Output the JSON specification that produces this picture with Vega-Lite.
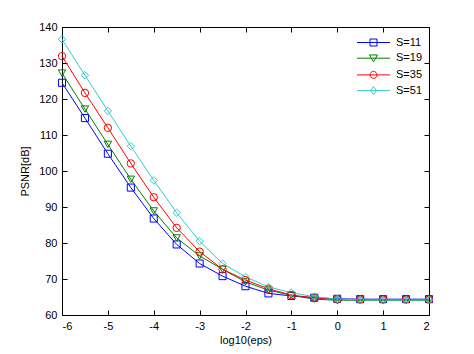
{
  "$schema": "https://vega.github.io/schema/vega-lite/v6.json",
  "width": 367,
  "height": 288,
  "autosize": "none",
  "padding": {"left": 62, "top": 27, "right": 45, "bottom": 39},
  "background": "white",
  "config": {
    "view": {"stroke": "black", "strokeWidth": 1},
    "font": "Liberation Sans",
    "axis": {
      "grid": false,
      "domain": false,
      "labelFont": "Liberation Sans",
      "labelFontSize": 11,
      "labelColor": "black",
      "titleFont": "Liberation Sans",
      "titleFontSize": 11,
      "titleFontWeight": "normal",
      "titleColor": "black",
      "tickColor": "black",
      "tickSize": -5
    },
    "legend": {
      "labelFont": "Liberation Sans",
      "labelFontSize": 11,
      "labelColor": "black"
    }
  },
  "datasets": {
    "psnr": [
      {"x": -6, "S": "S=11", "v": 124.5}, {"x": -5.5, "S": "S=11", "v": 114.7}, {"x": -5, "S": "S=11", "v": 104.8}, {"x": -4.5, "S": "S=11", "v": 95.4}, {"x": -4, "S": "S=11", "v": 86.8}, {"x": -3.5, "S": "S=11", "v": 79.6}, {"x": -3, "S": "S=11", "v": 74.3}, {"x": -2.5, "S": "S=11", "v": 70.8}, {"x": -2, "S": "S=11", "v": 68.0}, {"x": -1.5, "S": "S=11", "v": 66.0}, {"x": -1, "S": "S=11", "v": 65.3}, {"x": -0.5, "S": "S=11", "v": 64.8}, {"x": 0, "S": "S=11", "v": 64.5}, {"x": 0.5, "S": "S=11", "v": 64.4}, {"x": 1, "S": "S=11", "v": 64.4}, {"x": 1.5, "S": "S=11", "v": 64.4}, {"x": 2, "S": "S=11", "v": 64.4},
      {"x": -6, "S": "S=19", "v": 127.2}, {"x": -5.5, "S": "S=19", "v": 117.2}, {"x": -5, "S": "S=19", "v": 107.4}, {"x": -4.5, "S": "S=19", "v": 97.7}, {"x": -4, "S": "S=19", "v": 88.9}, {"x": -3.5, "S": "S=19", "v": 81.4}, {"x": -3, "S": "S=19", "v": 76.4}, {"x": -2.5, "S": "S=19", "v": 72.7}, {"x": -2, "S": "S=19", "v": 69.2}, {"x": -1.5, "S": "S=19", "v": 66.9}, {"x": -1, "S": "S=19", "v": 65.5}, {"x": -0.5, "S": "S=19", "v": 64.4}, {"x": 0, "S": "S=19", "v": 64.1}, {"x": 0.5, "S": "S=19", "v": 64.1}, {"x": 1, "S": "S=19", "v": 64.1}, {"x": 1.5, "S": "S=19", "v": 64.1}, {"x": 2, "S": "S=19", "v": 64.1},
      {"x": -6, "S": "S=35", "v": 131.9}, {"x": -5.5, "S": "S=35", "v": 121.7}, {"x": -5, "S": "S=35", "v": 112.0}, {"x": -4.5, "S": "S=35", "v": 102.1}, {"x": -4, "S": "S=35", "v": 92.7}, {"x": -3.5, "S": "S=35", "v": 84.2}, {"x": -3, "S": "S=35", "v": 77.6}, {"x": -2.5, "S": "S=35", "v": 72.7}, {"x": -2, "S": "S=35", "v": 69.7}, {"x": -1.5, "S": "S=35", "v": 67.3}, {"x": -1, "S": "S=35", "v": 65.5}, {"x": -0.5, "S": "S=35", "v": 64.8}, {"x": 0, "S": "S=35", "v": 64.3}, {"x": 0.5, "S": "S=35", "v": 64.3}, {"x": 1, "S": "S=35", "v": 64.3}, {"x": 1.5, "S": "S=35", "v": 64.3}, {"x": 2, "S": "S=35", "v": 64.3},
      {"x": -6, "S": "S=51", "v": 136.6}, {"x": -5.5, "S": "S=51", "v": 126.6}, {"x": -5, "S": "S=51", "v": 116.7}, {"x": -4.5, "S": "S=51", "v": 106.9}, {"x": -4, "S": "S=51", "v": 97.4}, {"x": -3.5, "S": "S=51", "v": 88.4}, {"x": -3, "S": "S=51", "v": 80.5}, {"x": -2.5, "S": "S=51", "v": 74.3}, {"x": -2, "S": "S=51", "v": 70.6}, {"x": -1.5, "S": "S=51", "v": 67.8}, {"x": -1, "S": "S=51", "v": 66.2}, {"x": -0.5, "S": "S=51", "v": 65.1}, {"x": 0, "S": "S=51", "v": 64.4}, {"x": 0.5, "S": "S=51", "v": 64.2}, {"x": 1, "S": "S=51", "v": 64.2}, {"x": 1.5, "S": "S=51", "v": 64.2}, {"x": 2, "S": "S=51", "v": 64.2}
    ]
  },
  "data": {"name": "psnr"},
  "layer": [
    {
      "mark": {"type": "line", "strokeWidth": 1},
      "encoding": {
        "x": {"field": "x", "type": "quantitative", "scale": {"domain": [-6, 2], "nice": false, "zero": false},
              "axis": {"orient": "bottom", "title": "log10(eps)", "values": [-6, -5, -4, -3, -2, -1, 0, 1, 2], "labelExpr": "'' + datum.value", "labelPadding": 10, "titlePadding": 3}},
        "y": {"field": "v", "type": "quantitative", "scale": {"domain": [60, 140], "nice": false, "zero": false},
              "axis": {"orient": "left", "title": "PSNR[dB]", "values": [60, 70, 80, 90, 100, 110, 120, 130, 140], "labelPadding": 10, "titlePadding": 8}},
        "color": {"field": "S", "type": "nominal", "scale": {"domain": ["S=11", "S=19", "S=35", "S=51"], "range": ["#0000ff", "#008000", "#ff0000", "#33cccc"]}}
      }
    },
    {
      "transform": [{"filter": "datum.S == 'S=11'"}],
      "mark": {"type": "point", "filled": false, "strokeWidth": 1, "size": 50, "opacity": 1, "shape": "square"},
      "encoding": {
        "x": {"field": "x", "type": "quantitative", "axis": {"orient": "top", "title": null, "labels": false, "values": [-6, -5, -4, -3, -2, -1, 0, 1, 2]}},
        "y": {"field": "v", "type": "quantitative", "axis": {"orient": "right", "title": null, "labels": false, "values": [60, 70, 80, 90, 100, 110, 120, 130, 140]}},
        "color": {"field": "S", "type": "nominal"}
      }
    },
    {
      "transform": [{"filter": "datum.S == 'S=19'"}],
      "mark": {"type": "point", "filled": false, "strokeWidth": 1, "size": 55, "opacity": 1, "shape": "triangle-down"},
      "encoding": {
        "x": {"field": "x", "type": "quantitative", "axis": null},
        "y": {"field": "v", "type": "quantitative", "axis": null},
        "color": {"field": "S", "type": "nominal"}
      }
    },
    {
      "transform": [{"filter": "datum.S == 'S=35'"}],
      "mark": {"type": "point", "filled": false, "strokeWidth": 1, "size": 55, "opacity": 1, "shape": "circle"},
      "encoding": {
        "x": {"field": "x", "type": "quantitative", "axis": null},
        "y": {"field": "v", "type": "quantitative", "axis": null},
        "color": {"field": "S", "type": "nominal"}
      }
    },
    {
      "transform": [{"filter": "datum.S == 'S=51'"}],
      "mark": {"type": "point", "filled": false, "strokeWidth": 1, "size": 55, "opacity": 1, "shape": "diamond"},
      "encoding": {
        "x": {"field": "x", "type": "quantitative", "axis": null},
        "y": {"field": "v", "type": "quantitative", "axis": null},
        "color": {"field": "S", "type": "nominal"}
      }
    },
    {
      "transform": [{"filter": "false"}],
      "mark": {"type": "point", "filled": false, "strokeWidth": 1, "size": 100, "opacity": 1},
      "encoding": {
        "x": {"field": "x", "type": "quantitative", "axis": null},
        "y": {"field": "v", "type": "quantitative", "axis": null},
        "color": {"field": "S", "type": "nominal",
                  "legend": {"title": null, "orient": "none", "legendX": 306, "legendY": 10, "padding": 0, "rowPadding": 3.7, "labelOffset": 17, "symbolStrokeWidth": 1, "symbolSize": 100, "symbolOpacity": 1}},
        "shape": {"field": "S", "type": "nominal",
                  "scale": {"domain": ["S=11", "S=19", "S=35", "S=51"],
                            "range": ["M-3.3,0H3.3M-0.7,-0.7H0.7V0.7H-0.7Z",
                                      "M-3.3,0H3.3M-0.8,-0.65H0.8L0,0.75Z",
                                      "M-3.3,0H3.3M0.7,0A0.7,0.7 0 1,1 -0.7,0A0.7,0.7 0 1,1 0.7,0",
                                      "M-3.3,0H3.3M0,-0.8L0.6,0L0,0.8L-0.6,0Z"]},
                  "legend": {"title": null, "orient": "none", "legendX": 306, "legendY": 10, "padding": 0, "rowPadding": 3.7, "labelOffset": 17, "symbolStrokeWidth": 1, "symbolSize": 100, "symbolOpacity": 1}}
      }
    }
  ]
}
